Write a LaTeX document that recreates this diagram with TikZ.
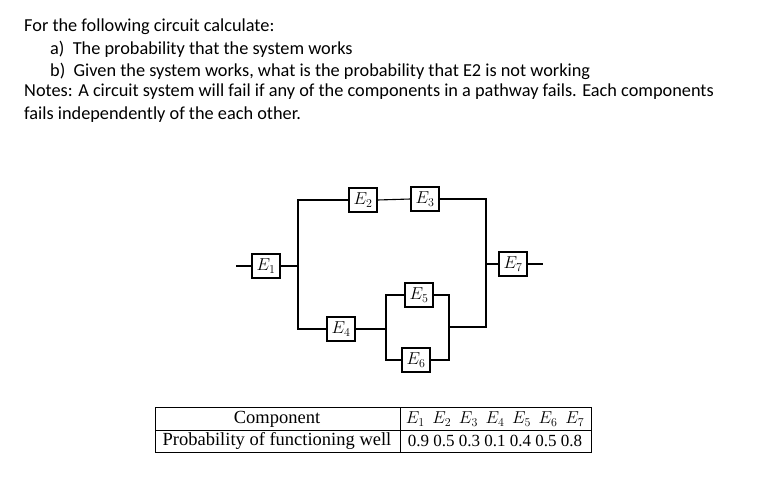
\documentclass[tikz,border=0pt]{standalone}
\usepackage{fontspec}
\setmainfont{Carlito}
\newfontfamily\tabfont{Liberation Serif}
\begin{document}
\begin{tikzpicture}[x=1pt,y=-1pt,
  comp/.style={draw,line width=1.1pt,minimum width=28pt,minimum height=24pt,inner sep=0pt,font=\fontsize{17}{18}\selectfont},
  wire/.style={line width=1.1pt},
  txt/.style={anchor=west,inner sep=0pt,font=\fontsize{18.3}{20}\selectfont},
  cell/.style={inner sep=0pt,font=\tabfont\fontsize{18.5}{19}\selectfont},
  vcell/.style={inner sep=0pt,font=\tabfont\fontsize{17}{19}\selectfont}]
\useasboundingbox (0,0) rectangle (759,487);
\node[txt] (t1) at (24,27) {For the following circuit calculate:};
\node[txt] (t2) at (50,49) {a)\ \ The probability that the system works};
\node[txt] (t3) at (50,71) {b)\ \ Given the system works, what is the probability that E2 is not working};
\node[txt] (t4) at (24,92) {Notes: A circuit system will fail if any of the components in a pathway fails. Each components};
\node[txt] (t5) at (24,115) {fails independently of the each other.};
% circuit
\node[comp] (e1) at (266,266) {$E_1$};
\node[comp] (e2) at (363,200) {$E_2$};
\node[comp] (e3) at (425,199) {$E_3$};
\node[comp] (e7) at (513,264) {$E_7$};
\node[comp] (e4) at (341,329) {$E_4$};
\node[comp] (e5) at (419,295) {$E_5$};
\node[comp] (e6) at (416,360) {$E_6$};
\coordinate (in) at (236,266);
\coordinate (out) at (543,264);
\coordinate (jl) at (298,266);
\coordinate (jr) at (486,264);
\draw[wire] (in) -- (e1.west);
\draw[wire] (e1.east) -- (jl);
\draw[wire] (jl) |- (e2.west);
\draw[wire] (e2.east) -- (e3.west);
\draw[wire] (e3.east) -| (jr);
\draw[wire] (jl) |- (e4.west);
\draw[wire] (jr) -- (e7.west);
\draw[wire] (e7.east) -- (out);
\coordinate (pl) at (386,329);
\coordinate (pr) at (449,327);
\draw[wire] (e4.east) -- (pl);
\draw[wire] (pl) |- (e5.west);
\draw[wire] (pl) |- (e6.west);
\draw[wire] (e5.east) -| (pr);
\draw[wire] (e6.east) -| (pr);
\draw[wire] (pr) -| (jr);
% table
\coordinate (ta) at (155,407);
\coordinate (tb) at (591,452);
\draw[line width=1pt] (ta) rectangle (tb);
\draw[line width=1pt] (155,430) -- (591,430);
\draw[line width=1pt] (400,407) -- (400,452);
\node[cell] (c1) at (277,419) {Component};
\node[cell] (c2) at (277,441) {Probability of functioning well};
\node[vcell] (c3) at (495,419) {$E_1\;\,E_2\;\,E_3\;\,E_4\;\,E_5\;\,E_6\;\,E_7$};
\node[vcell] (c4) at (495,441) {0.9 0.5 0.3 0.1 0.4 0.5 0.8};
\end{tikzpicture}
\end{document}
